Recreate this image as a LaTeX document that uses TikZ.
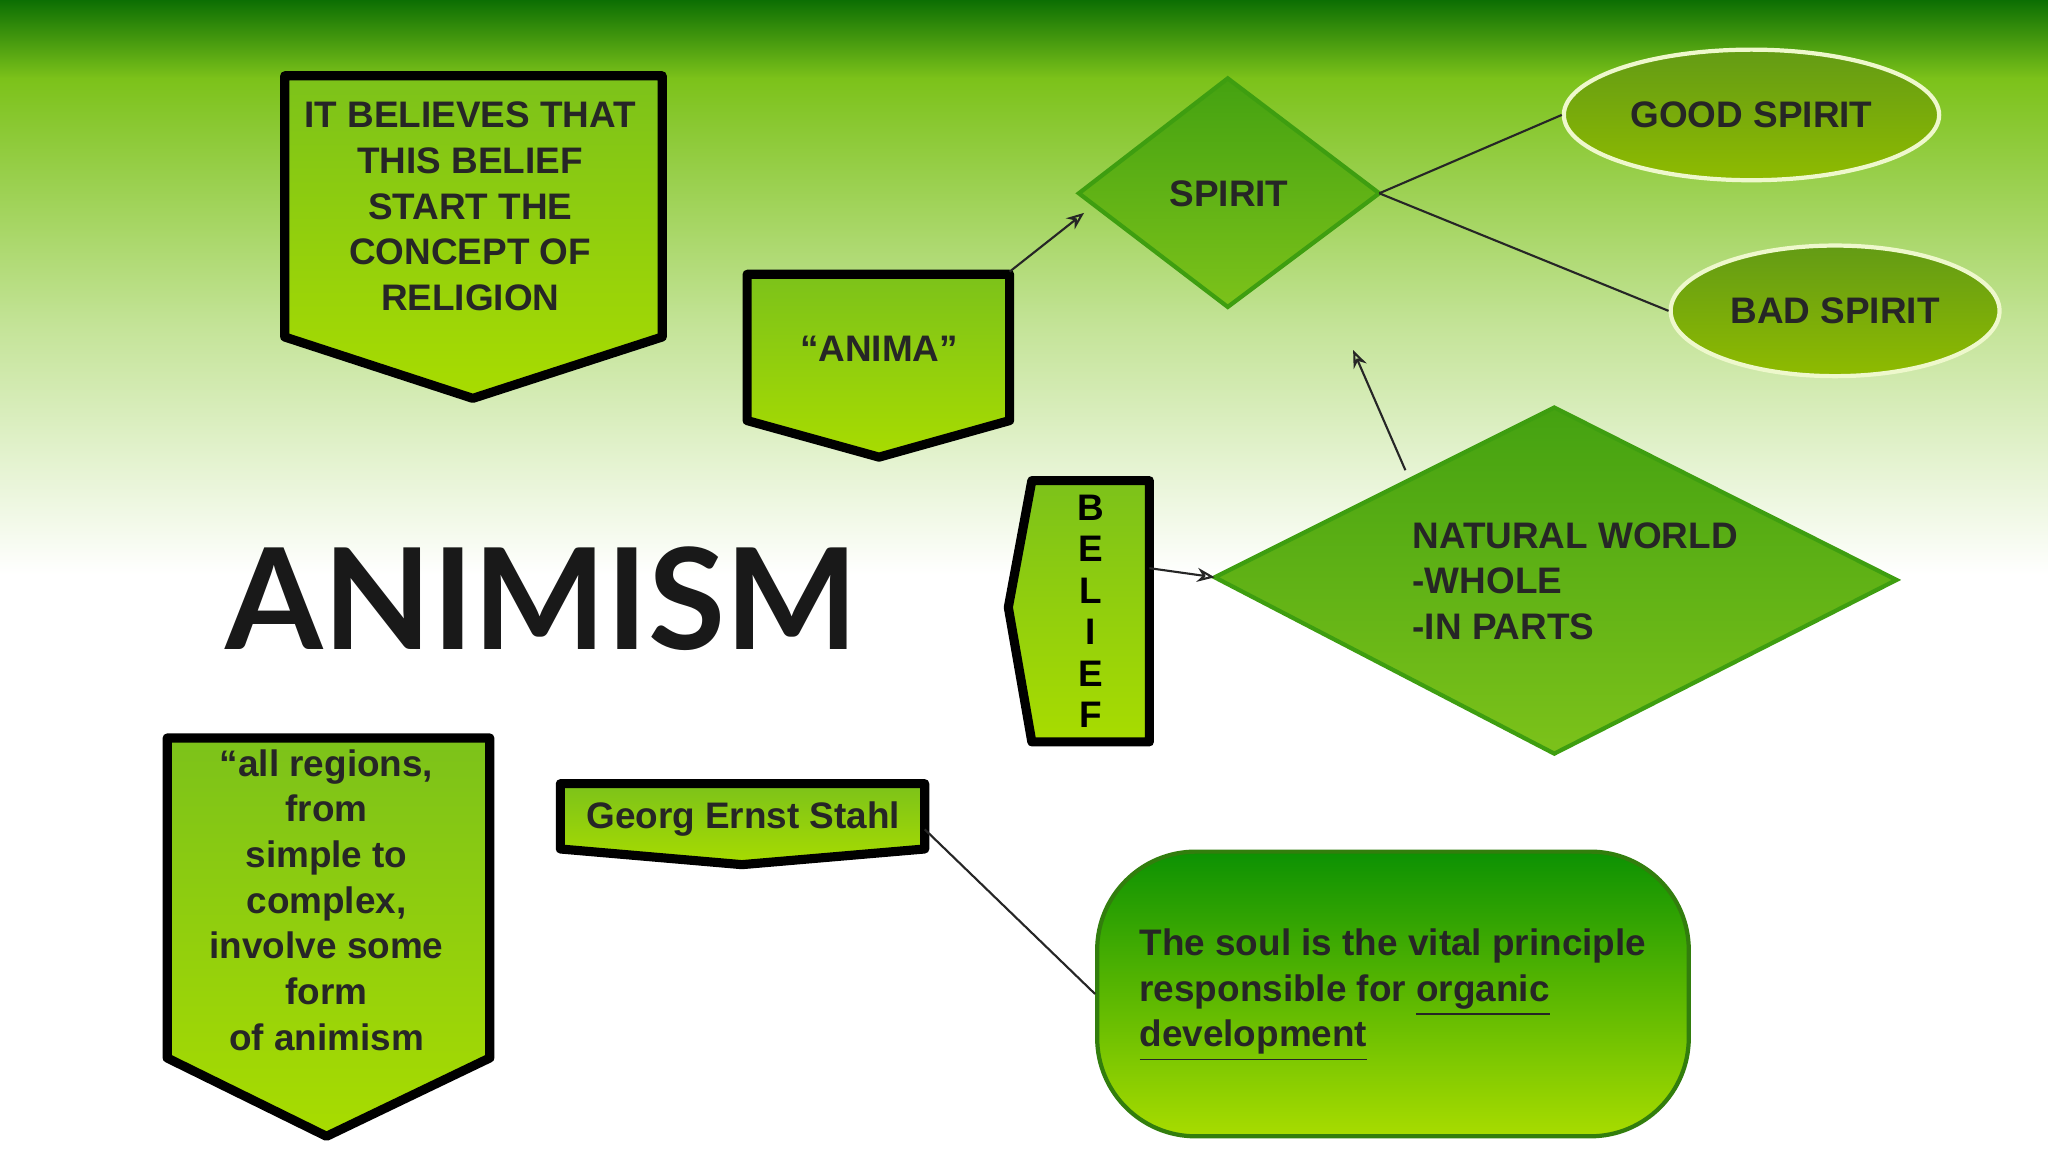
\documentclass[tikz,border=0pt]{standalone}
\usepackage{fontspec}
\setmainfont{Liberation Sans}
\newfontfamily\titlefont{Lato}
\usetikzlibrary{arrows.meta,shapes.geometric}
\definecolor{gA}{HTML}{7CC21A}
\definecolor{gB}{HTML}{A8DC00}
\definecolor{gD}{HTML}{3E9E10}
\tikzset{
  blkbox/.style={shade, top color=gA, bottom color=gB, draw=black, line width=2.6pt, line join=round},
  dia/.style={shade, top color=gD!90!gA, bottom color=gA, draw=gD, line width=1.2pt},
  ell/.style={ellipse, shade, top color=gA!80!black, bottom color=gB!85!black, draw=white!80!gB, line width=1.2pt, minimum width=3.317cm, minimum height=1.306cm},
  txt/.style={font=\bfseries\fontsize{10.5}{13}\selectfont, align=center, text=black!85},
  conn/.style={draw=black!85, line width=0.6pt},
  arr/.style={conn, -{Stealth[length=5pt,width=4pt,open]}},
}
\begin{document}
\begin{tikzpicture}[x=0.01306cm,y=-0.01306cm]
\useasboundingbox (0,0) rectangle (1568,882);
% background
\fill[white] (0,0) rectangle (1568,882);
\shade[top color=green!40!black!90!gA, bottom color=gA] (0,0) rectangle (1568,60);
\shade[top color=gA, bottom color=gA!45!white] (0,60) rectangle (1568,250);
\shade[top color=gA!45!white, bottom color=white] (0,250) rectangle (1568,440);
% box 1
\path[blkbox] (218,58) -- (507,58) -- (507,258) -- (362,305) -- (218,258) -- cycle;
\node[txt] (b1) at (360,158) {IT BELIEVES THAT\\THIS BELIEF\\START THE\\CONCEPT OF\\RELIGION};
% anima
\path[blkbox] (572,210) -- (773,210) -- (773,322) -- (673,350) -- (572,322) -- cycle;
\coordinate (animaTR) at (773,208);
\node[txt] (anima) at (673,267) {“ANIMA”};
% spirit
\path[dia] (826,148) -- (940,60) -- (1056,148) -- (940,235) -- cycle;
\coordinate (spL) at (830,163);
\coordinate (spR) at (1056,148);
\coordinate (spB) at (1036,268);
\node[txt] (spirit) at (941,148) {SPIRIT};
\node[ell, txt] (good) at (1341,88) {GOOD SPIRIT};
\node[ell, txt, minimum width=3.082cm] (bad) at (1405,238) {BAD SPIRIT};
\draw[conn] (spR) -- (good.west);
\draw[conn] (spR) -- (bad.west);
\draw[arr] (animaTR) -- (spL);
% belief
\path[blkbox] (790,368) -- (880,368) -- (880,568) -- (790,568) -- (772,465) -- cycle;
\node[font=\bfseries\fontsize{10.5}{11.8}\selectfont, align=center] (belief) at (835,468) {B\\E\\L\\I\\E\\F};
\coordinate (belR) at (880,435);
% natural world
\path[dia] (930,442) -- (1190,312) -- (1452,444) -- (1190,577) -- cycle;
\coordinate (nwL) at (930,442);
\coordinate (nwT) at (1076,360);
\node[txt, align=left, anchor=west] (nw) at (1072,445) {NATURAL WORLD\\-WHOLE\\-IN PARTS};
\draw[arr] (belR) -- (nwL);
\draw[arr] (nwT) -- (spB);
% title
\node[font=\titlefont\bfseries\fontsize{40}{40}\selectfont, text=black!90] (title) at (415,458) {ANIMISM};
% bottom left
\path[blkbox] (128,565) -- (375,565) -- (375,810) -- (250,870) -- (128,810) -- cycle;
\node[txt] (b3) at (250,689) {“all regions,\\from\\simple to\\complex,\\involve some\\form\\of animism};
% georg
\path[blkbox] (429,600) -- (708,600) -- (708,650) -- (568,662) -- (429,650) -- cycle;
\node[txt] (georg) at (569,627) {Georg Ernst Stahl};
\coordinate (gR) at (708,635);
% soul
\node[draw=gD!80!black, line width=1.2pt, rounded corners=28pt, shade, top color=green!55!black!90!gA, bottom color=gB, minimum width=5.916cm, minimum height=2.847cm] (soul) at (1066.5,761) {};
\node[txt, align=left, anchor=west] (soultxt) at (863,762) {The soul is the vital principle\\responsible for \underline{organic}\\\underline{development}};
\draw[conn] (gR) -- (soul.west);
\end{tikzpicture}
\end{document}
